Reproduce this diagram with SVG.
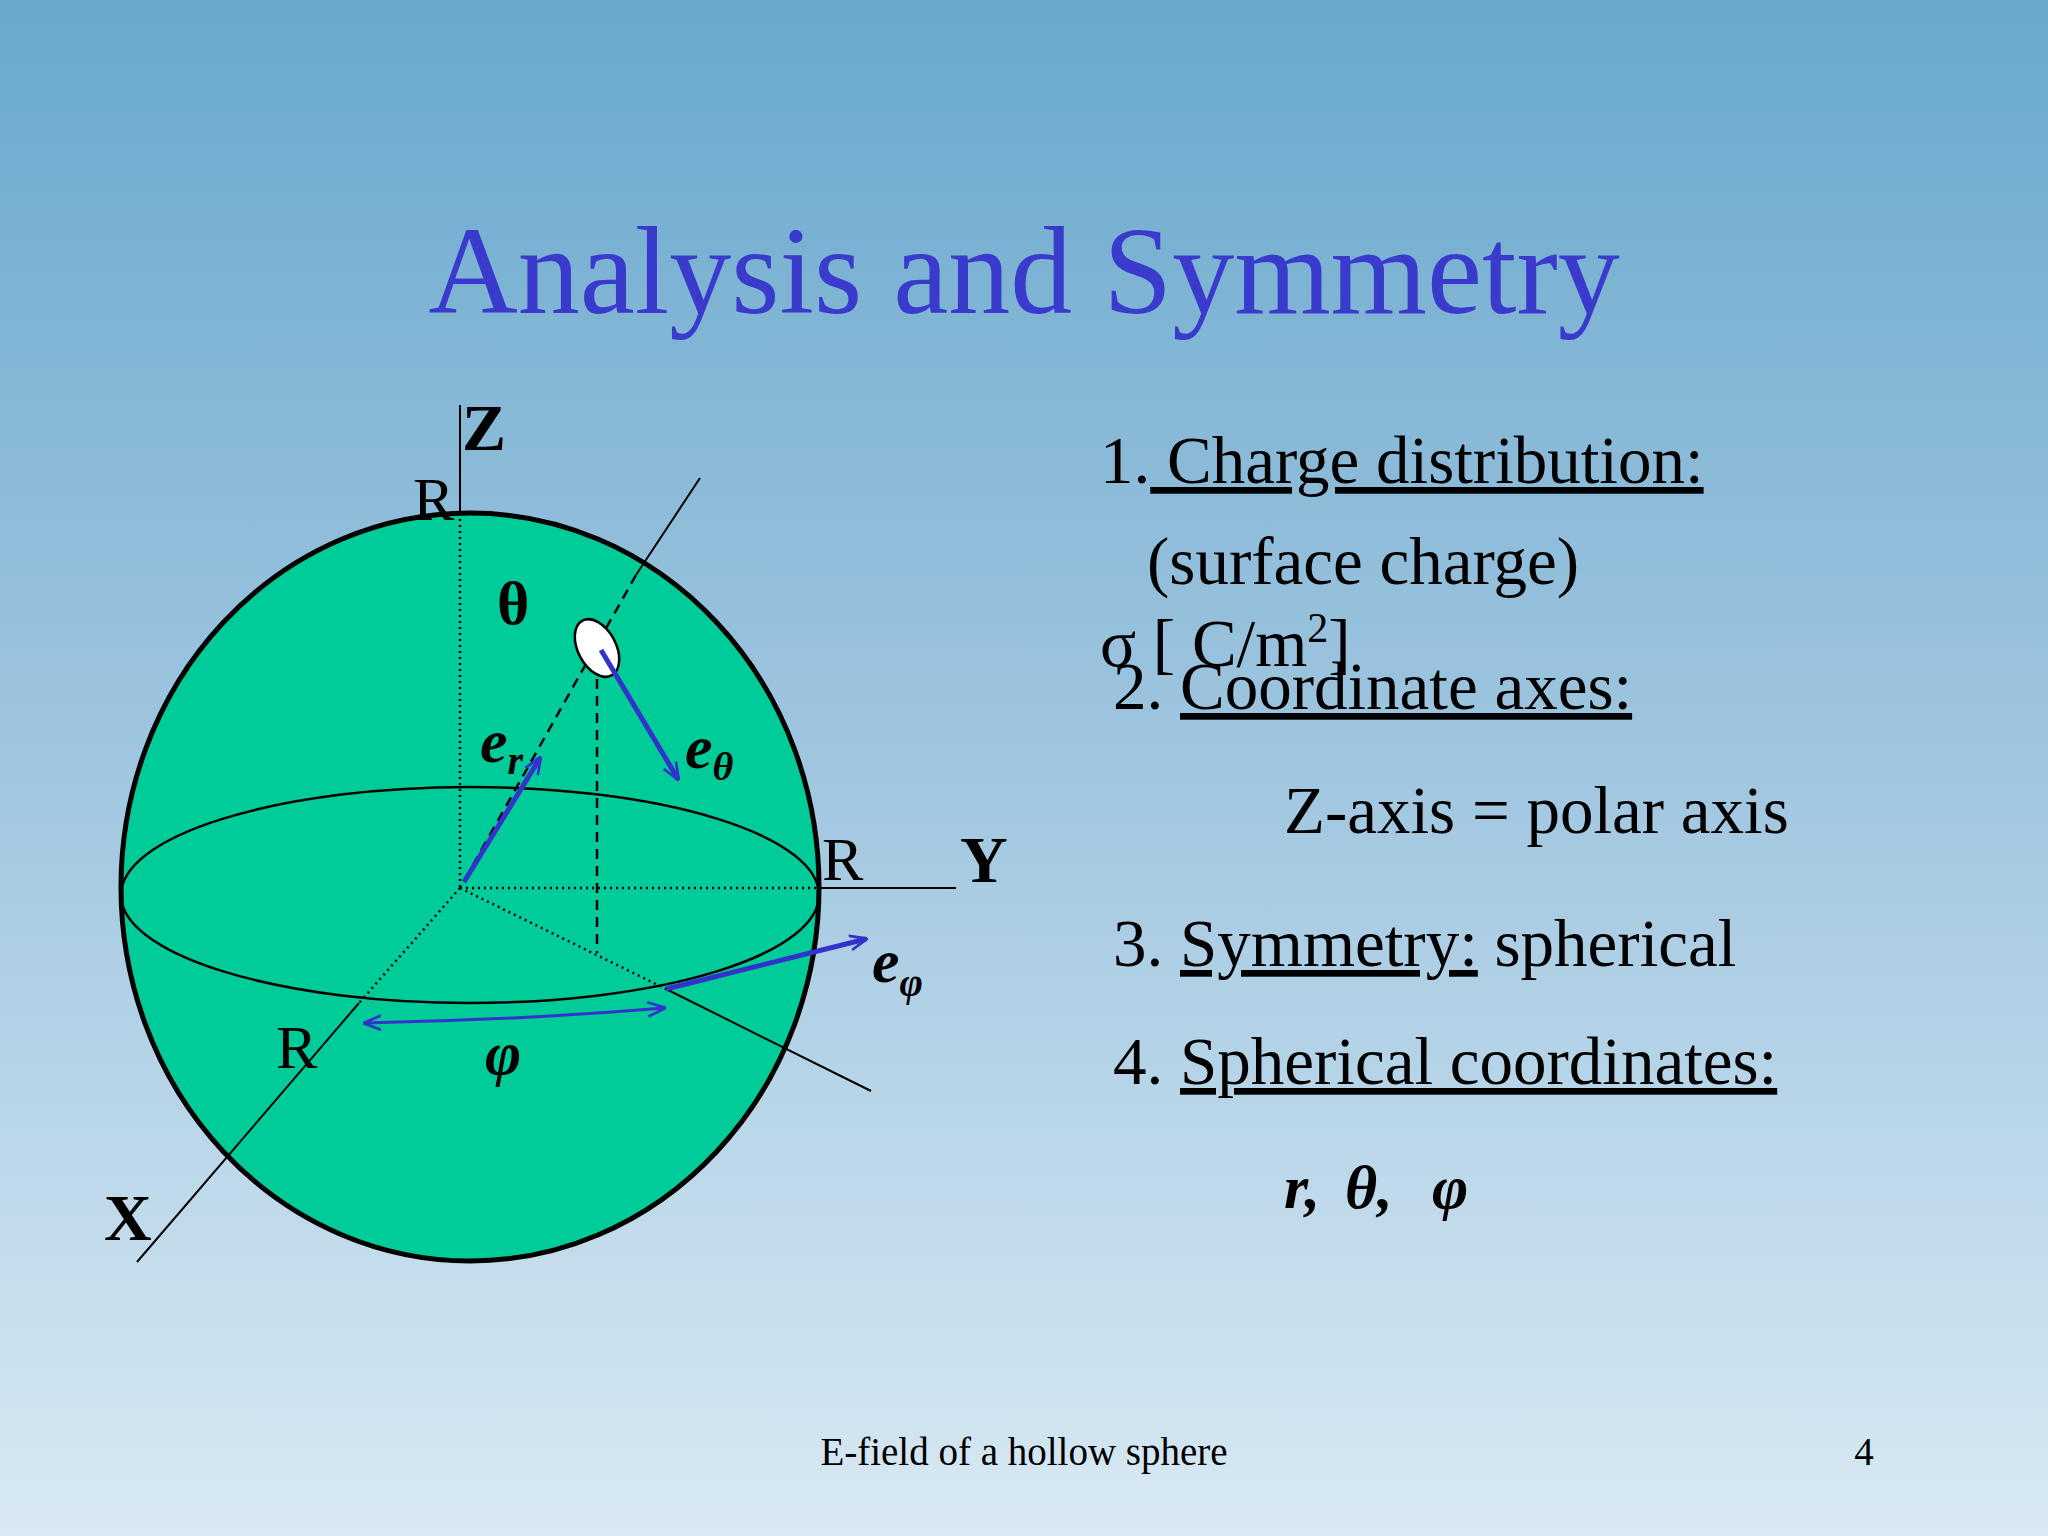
<svg xmlns="http://www.w3.org/2000/svg" width="2048" height="1536" viewBox="0 0 2048 1536">
<defs>
<linearGradient id="bg" x1="0" y1="0" x2="0" y2="1">
<stop offset="0" stop-color="#69a8cc"/><stop offset="0.5" stop-color="#a0c6e0"/><stop offset="1" stop-color="#d8e9f3"/>
</linearGradient>
<marker id="ah2" viewBox="0 0 10 10" refX="9" refY="5" markerWidth="18" markerHeight="18" orient="auto-start-reverse" markerUnits="userSpaceOnUse">
<path d="M0,1 L10,5 L0,9" fill="none" stroke="#3333cc" stroke-width="1.5"/>
</marker>
<style>
.t{font-family:"Liberation Serif",serif;fill:#000}
.b{font-weight:bold}
.bi{font-weight:bold;font-style:italic}
.ln{stroke:#000;stroke-width:2;fill:none}
.dot{stroke:#000;stroke-width:2.5;stroke-dasharray:2 4;fill:none}
.dash{stroke:#000;stroke-width:2.5;stroke-dasharray:10 7;fill:none}
.bl{stroke:#3333cc;stroke-width:5;fill:none}
.u{text-decoration:underline}
</style>
</defs>
<rect width="2048" height="1536" fill="url(#bg)"/>
<text class="t" x="1024" y="313" font-size="124" text-anchor="middle" style="fill:#3a3acc">Analysis and Symmetry</text>
<g id="sphere">
<ellipse cx="470" cy="887" rx="349" ry="374" fill="#00cc99" stroke="#000" stroke-width="5"/>
<ellipse cx="470" cy="895" rx="349" ry="108" fill="none" stroke="#000" stroke-width="2.5"/>
</g>
<g id="axes">
<line class="ln" x1="460" y1="405" x2="460" y2="513"/>
<line class="dot" x1="460" y1="513" x2="460" y2="888"/>
<line class="dot" x1="460" y1="888" x2="819" y2="888"/>
<line class="ln" x1="819" y1="888" x2="956" y2="888"/>
<line class="dot" x1="460" y1="888" x2="359" y2="1003"/>
<line class="ln" x1="359" y1="1003" x2="137" y2="1262"/>
<line class="ln" x1="700" y1="478" x2="636" y2="575"/>
<line class="dash" x1="636" y1="575" x2="460" y2="888"/>
<line class="dash" x1="597" y1="679" x2="597" y2="953"/>
<line class="dot" x1="460" y1="888" x2="666" y2="989"/>
<line class="ln" x1="666" y1="989" x2="871" y2="1091"/>
</g>
<g id="patch"><ellipse cx="597" cy="648" rx="19" ry="31" transform="rotate(-28 597 648)" fill="#fff" stroke="#000" stroke-width="2.5"/></g>
<g id="connectors">
<line class="bl" x1="464" y1="882" x2="540" y2="758" marker-end="url(#ah2)"/>
<line class="bl" x1="601" y1="650" x2="678" y2="779" marker-end="url(#ah2)"/>
<line class="bl" x1="666" y1="989" x2="866" y2="939" marker-end="url(#ah2)"/>
<path d="M365,1023 Q520,1020 664,1008" stroke="#3333cc" stroke-width="3" fill="none" marker-start="url(#ah2)" marker-end="url(#ah2)"/>
</g>
<g id="labels">
<text class="t b" x="462" y="450" font-size="66">Z</text>
<text class="t" x="413" y="520" font-size="62">R</text>
<text class="t b" x="497" y="624" font-size="62">θ</text>
<text class="t bi" x="480" y="762" font-size="62">e<tspan font-size="40" dy="12">r</tspan></text>
<text class="t bi" x="685" y="768" font-size="62">e<tspan font-size="40" dy="12">θ</tspan></text>
<text class="t" x="822" y="880" font-size="62">R</text>
<text class="t b" x="960" y="882" font-size="66">Y</text>
<text class="t bi" x="872" y="982" font-size="62">e<tspan font-size="40" dy="14">φ</tspan></text>
<text class="t" x="276" y="1068" font-size="62">R</text>
<text class="t bi" x="485" y="1074" font-size="62">φ</text>
<text class="t b" x="104" y="1240" font-size="66">X</text>
</g>
<g id="text" class="t" font-size="67">
<text class="t" x="1100" y="483">1.<tspan class="u"> Charge distribution:</tspan></text>
<text class="t" x="1147" y="584">(surface charge)</text>
<text class="t" x="1100" y="666">σ [ C/m<tspan font-size="42" dy="-24">2</tspan><tspan dy="24">]</tspan></text>
<text class="t" x="1113" y="709">2. <tspan class="u">Coordinate axes:</tspan></text>
<text class="t" x="1284" y="833">Z-axis = polar axis</text>
<text class="t" x="1113" y="966">3. <tspan class="u">Symmetry:</tspan> spherical</text>
<text class="t" x="1113" y="1084">4. <tspan class="u">Spherical coordinates:</tspan></text>
<text class="t bi" x="1284" y="1208" font-size="62">r,<tspan x="1345">θ,</tspan><tspan x="1432">φ</tspan></text>
</g>
<text class="t" x="1024" y="1465" font-size="39" text-anchor="middle">E-field of a hollow sphere</text>
<text class="t" x="1864" y="1465" font-size="39" text-anchor="middle">4</text>
</svg>
